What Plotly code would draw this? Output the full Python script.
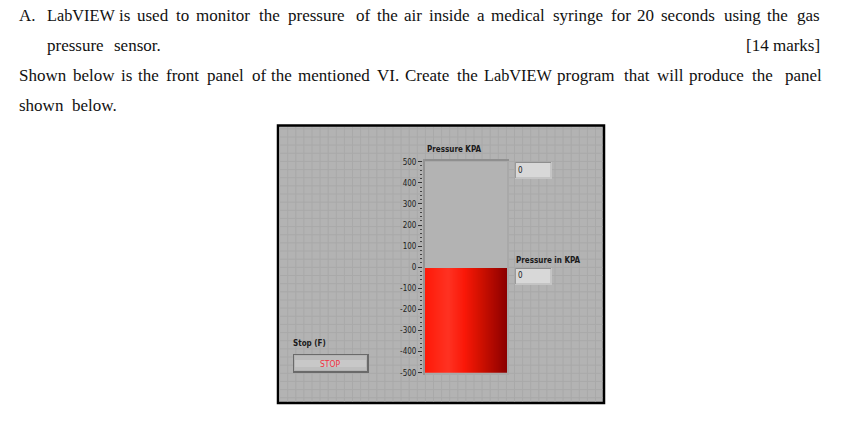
import plotly.graph_objects as go

W, H = 842, 448

# gauge values
scale_ticks = [500, 400, 300, 200, 100, 0, -100, -200, -300, -400, -500]
scale_labels = ["500", "400", "300", "200", "100", "0", "-100", "-200", "-300", "-400", "-500"]
pressure_value = 0
scale_min = -500
scale_max = 500
top_readout = "0"
bottom_readout = "0"

# question text, one list per line
line1_words = ["A.", "LabVIEW", "is", "used", "to", "monitor", "the", "pressure", "of", "the", "air",
               "inside", "a", "medical", "syringe", "for", "20", "seconds", "using", "the", "gas"]
line1_x = [19, 47, 119, 137, 176, 196, 259, 288, 356, 377, 404,
           429, 477, 491, 553, 611, 637, 661, 724, 767, 797]
line2_words = ["pressure", "sensor."]
line2_x = [47, 114]
line3_words = ["Shown", "below", "is", "the", "front", "panel", "of", "the", "mentioned", "VI.", "Create",
               "the", "LabVIEW", "program", "that", "will", "produce", "the", "panel"]
line3_x = [19, 73, 121, 138, 166, 207, 252, 271, 298, 377, 405,
           457, 484, 557, 624, 657, 689, 752, 785]
line4_words = ["shown", "below."]
line4_x = [19, 72]

SERIF = "Liberation Serif"
SANS = "Liberation Sans Narrow, DejaVu Sans Condensed, Liberation Sans"
BG = "#b3b3b3"
GRID = "#a9a9a9"


def px(x):
    return x / W


def py(y):
    return 1 - y / H


def rect(x0, y0, x1, y1, fill, line=None, lw=0):
    return dict(type="rect", xref="paper", yref="paper", x0=px(x0), x1=px(x1), y0=py(y0), y1=py(y1),
                fillcolor=fill, line=dict(color=line or fill, width=lw), layer="below")


def hline(x0, x1, y, color, lw=1):
    return dict(type="line", xref="paper", yref="paper", x0=px(x0), x1=px(x1), y0=py(y), y1=py(y),
                line=dict(color=color, width=lw), layer="below")


def vline(x, y0, y1, color, lw=1):
    return dict(type="line", xref="paper", yref="paper", x0=px(x), x1=px(x), y0=py(y0), y1=py(y1),
                line=dict(color=color, width=lw), layer="below")


def label(x, y, s, size=8, color="#1a1a1a", font=SANS, anchor="left", bold=False):
    return dict(xref="paper", yref="paper", x=px(x), y=py(y), text=f"<b>{s}</b>" if bold else s,
                showarrow=False, xanchor=anchor, yanchor="middle", align=anchor, borderpad=0, borderwidth=0,
                font=dict(family=font, size=size, color=color))


def mix(a, b, t):
    return "#" + "".join(f"{round(a[i] + (b[i] - a[i]) * t):02x}" for i in range(3))


# horizontal shading of the tank fill
stops = [(0.0, (255, 26, 8)), (0.28, (255, 50, 34)), (0.48, (250, 24, 8)),
         (0.68, (208, 16, 0)), (1.0, (140, 0, 0))]


def shade(t):
    for (t0, c0), (t1, c1) in zip(stops, stops[1:]):
        if t <= t1:
            return mix(c0, c1, (t - t0) / (t1 - t0))
    return mix(stops[-1][1], stops[-1][1], 0)


n_strips = 82
fig = go.Figure()
fig.add_trace(go.Bar(
    x=[i + 0.5 for i in range(n_strips)],
    y=[pressure_value - scale_min] * n_strips,
    base=scale_min,
    width=1,
    marker=dict(color=[shade(i / (n_strips - 1)) for i in range(n_strips)], line=dict(width=0)),
    hoverinfo="skip",
    showlegend=False,
))

shapes = [rect(278, 125.5, 604, 403, BG, "#000000", 2.5)]
# panel grid
gx = 279.6
while gx < 603:
    shapes.append(vline(gx, 127, 401.5, GRID))
    gx += 8.1
gy = 128.8
while gy < 401:
    shapes.append(hline(279.5, 602.5, gy, GRID))
    gy += 8.15

# tank frame
shapes += [
    rect(423, 159, 509, 375, "#a9a9a9"),
    rect(425, 162, 507, 373, BG),
    hline(423, 509, 160, "#8f8f8f", 2),
    vline(424, 159, 375, "#949494", 2),
]
# readouts
for y0, y1 in [(163, 177), (269, 283)]:
    shapes += [
        rect(515, y0 - 1, 552, y1 + 2, "#c4c4c4"),
        rect(516, y0, 550, y1, "#d8d8d8"),
        hline(515, 551, y0 - 0.5, "#8e8e8e", 1),
        vline(515.5, y0 - 1, y1 + 1, "#9a9a9a", 1),
    ]
# stop button, bevel is heavier on the right and bottom
shapes += [
    rect(293, 354, 369, 373, "#6a6a6a"),
    rect(294, 355, 367, 371, "#b4b4b4"),
    rect(295, 356, 366, 360, "#bcbcbc"),
    rect(295, 360, 366, 367, "#c8c8c8"),
    rect(295, 367, 366, 370, "#bebebe"),
]

annotations = [
    label(427, 149.5, "Pressure KPA", bold=True),
    label(516, 260.5, "Pressure in KPA", bold=True),
    label(293, 343, "Stop (F)", bold=True),
    label(330.5, 364, "STOP", color="#f03040", size=8.5, anchor="center"),
    label(518, 170, top_readout),
    label(518, 275.5, bottom_readout),
    label(820, 46, "[14 marks]", size=17, font=SERIF, anchor="right", color="#111111"),
]
for words, xs, y in [(line1_words, line1_x, 16), (line2_words, line2_x, 46),
                     (line3_words, line3_x, 75), (line4_words, line4_x, 105)]:
    for w, x in zip(words, xs):
        # the capitals run wide in this serif
        annotations.append(label(x, y, w, size=16.3 if w == "LabVIEW" else 17, font=SERIF, color="#111111"))

fig.update_layout(
    width=W, height=H,
    margin=dict(l=0, r=0, t=0, b=0, autoexpand=False),
    paper_bgcolor="white",
    plot_bgcolor="rgba(0,0,0,0)",
    bargap=0,
    shapes=shapes,
    annotations=annotations,
    xaxis=dict(domain=[px(425), px(507)], range=[0, n_strips], visible=False, fixedrange=True),
    yaxis=dict(
        domain=[py(372.7), py(161.7)], range=[scale_min, scale_max],
        anchor="free", position=px(422),
        tickmode="array", tickvals=scale_ticks, ticktext=scale_labels,
        ticks="outside", ticklen=4, tickwidth=1, tickcolor="#333333",
        tickfont=dict(family=SANS, size=8, color="#222222"),
        minor=dict(dtick=20, ticks="outside", ticklen=2, tickwidth=1, tickcolor="#444444"),
        showgrid=False, zeroline=False, showline=False, fixedrange=True,
    ),
)

fig.write_html("out.html", config=dict(displayModeBar=False),
               post_script="document.body.style.margin='0';")
